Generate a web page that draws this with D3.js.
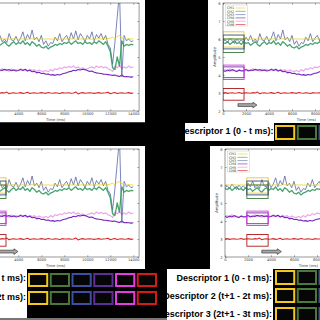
<!DOCTYPE html>
<html><head><meta charset="utf-8">
<script src="https://cdn.jsdelivr.net/npm/d3@7"></script>
<style>html,body{margin:0;padding:0;background:#000;overflow:hidden}svg{display:block}</style>
</head><body>
<svg id="c" width="320" height="320"></svg>
<script>
// ---------- data ----------
const channels = ["CH1","CH2","CH3","CH4","CH5","CH6"];
const sampleTimes = d3.range(0, 14001, 200);
const ch1 = [6.0,6.01,5.99,6.0,6.02,6.0,5.99,6.01,6.0,6.0,6.01,
  6.0,5.99,6.02,6.0,6.01,5.99,6.0,6.02,6.0,5.99,
  6.0,6.01,6.0,5.98,6.0,6.02,6.0,6.01,5.99,6.0,
  6.0,6.0,6.01,5.99,6.0,6.02,6.0,5.98,6.01,6.0,
  6.0,6.02,6.0,6.01,5.99,6.0,6.01,6.0,6.02,6.0,
  6.0,5.99,6.01,6.0,6.02,6.0,6.05,6.0,6.02,6.05,
  6.1,6.0,6.15,6.2,6.05,6.1,6.0,6.02,6.0,6.01];
const ch2 = [5.8,5.75,5.85,5.7,5.8,5.9,5.75,5.8,5.7,5.85,5.75,
  5.8,5.65,5.75,5.85,5.7,5.6,5.75,5.85,5.7,5.8,
  5.75,5.9,5.7,5.8,5.65,5.85,5.75,5.6,5.7,5.55,
  5.5,5.6,5.45,5.55,5.6,5.7,5.65,5.75,5.7,5.8,
  5.75,5.85,5.7,5.8,5.9,5.75,5.8,5.7,5.85,5.75,
  5.8,5.7,5.85,5.75,5.9,5.8,5.7,5.85,5.6,5.3,
  4.4,4.3,5.0,4.5,5.9,5.6,5.7,5.65,5.7,5.68];
const ch3 = [5.85,5.95,5.8,6.05,5.9,5.75,6.0,5.85,5.95,5.8,6.1,
  5.9,6.2,5.85,6.0,5.8,6.3,5.95,5.9,6.15,5.85,
  6.05,6.4,5.9,6.25,6.0,6.5,5.95,6.1,5.85,6.2,
  5.7,5.9,5.6,5.8,5.75,6.1,5.9,6.3,5.85,6.05,
  6.2,5.9,6.35,6.0,6.45,5.95,6.3,6.1,5.85,6.2,
  6.0,6.4,5.9,6.25,6.05,6.3,5.95,6.2,5.7,5.5,
  4.6,5.8,7.2,8.6,3.9,6.2,5.9,6.0,5.85,5.9];
const ch4 = [4.25,4.2,4.28,4.22,4.3,4.24,4.2,4.27,4.22,4.25,4.3,
  4.22,4.28,4.25,4.32,4.26,4.3,4.24,4.28,4.22,4.25,
  4.3,4.25,4.32,4.22,4.26,4.18,4.2,4.12,4.15,4.08,
  4.1,4.04,4.06,4.0,4.02,3.98,4.03,4.0,4.06,4.1,
  4.12,4.18,4.2,4.26,4.24,4.3,4.28,4.32,4.3,4.25,
  4.2,4.22,4.15,4.12,4.1,4.08,4.05,4.04,4.02,4.0,
  3.98,4.0,3.95,3.92,4.0,3.9,3.92,3.9,3.88,3.9];
const ch5 = [4.25,4.3,4.2,4.35,4.22,4.28,4.18,4.3,4.25,4.2,4.32,
  4.28,4.22,4.35,4.25,4.3,4.2,4.33,4.27,4.3,4.25,
  4.35,4.28,4.3,4.22,4.32,4.25,4.3,4.2,4.28,4.22,
  4.2,4.25,4.18,4.3,4.22,4.35,4.3,4.4,4.35,4.45,
  4.4,4.48,4.42,4.5,4.38,4.45,4.35,4.4,4.3,4.35,
  4.4,4.45,4.38,4.5,4.42,4.48,4.4,4.45,4.35,4.3,
  4.2,4.5,4.4,4.55,4.35,4.45,4.38,4.5,4.4,4.45];
const ch6 = [3.0,3.02,2.98,3.0,3.01,2.99,3.0,3.03,2.98,3.0,3.01,
  3.0,2.99,3.02,3.0,3.05,2.96,3.0,3.01,2.99,3.0,
  3.02,2.98,3.0,3.04,2.97,3.0,3.01,2.99,3.0,3.02,
  3.0,2.98,3.03,3.0,2.99,3.01,3.0,2.97,3.02,3.0,
  3.0,3.01,2.99,3.0,3.06,2.95,3.0,3.02,2.99,3.0,
  3.01,3.0,2.98,3.0,3.02,2.99,3.0,3.01,3.04,2.96,
  3.0,3.03,2.97,3.0,3.01,2.99,3.0,3.02,2.98,3.0];
const series = [ch1, ch2, ch3, ch4, ch5, ch6];
const lineColors = ["#e6d21e","#2f9a5c","#5a68a8","#6a1cb8","#e08ae0","#d42020"];
const xTicks = [0,2000,4000,6000,8000,10000,12000,14000];
const yTicks = [2,3,4,5,6,7,8];
const boxRanges = [[5.55,6.4],[5.25,6.0],[5.45,6.22],[3.85,4.45],[3.75,4.55],[2.6,3.25]];
const boxColors = ["#f2c81e","#3f7a3c","#2e4f7a","#7a2aa8","#d63ad6","#b01818"];
const descriptorLabels = ["Descriptor 1 (0 - t ms):","Descriptor 2 (t+1 - 2t ms):","Descriptor 3 (2t+1 - 3t ms):"];
const descriptorColors = ["#f2c81e","#4a7a3a","#3e4ea0","#5e2e98","#e23ee2","#d41a1a"];

// ---------- drawing ----------
const svg = d3.select("#c");
const defs = svg.append("defs");
const drawOrder = [4,3,5,2,1,0];
const strokeW = [0.8,1.3,0.9,1.1,1.2,1.1];
const strokeOp = [0.95,0.9,0.9,0.95,0.75,0.95];

function drawPanel(p) {
  defs.append("clipPath").attr("id","r"+p.name).append("rect")
    .attr("x",p.rx).attr("y",p.ry).attr("width",p.rw).attr("height",p.rh);
  const g = svg.append("g").attr("clip-path",`url(#r${p.name})`);
  g.append("rect").attr("x",p.rx).attr("y",p.ry).attr("width",p.rw).attr("height",p.rh).attr("fill","#fff");
  const x = d3.scaleLinear().domain([0,14500]).range([p.x0, p.x0 + 14500*0.0115]);
  const y = d3.scaleLinear().domain([2,8]).range([p.yB, p.yB-108]);
  const inX = v => x(v) > p.rx + 3 && x(v) < p.rx + p.rw + 6;
  defs.append("clipPath").attr("id","f"+p.name).append("rect")
    .attr("x",x(0)).attr("y",y(8)).attr("width",x(14500)-x(0)).attr("height",y(2)-y(8));
  const plot = g.append("g").attr("clip-path",`url(#f${p.name})`);
  const line = d3.line().x((d,i)=>x(sampleTimes[i])).y(d=>y(d));
  drawOrder.forEach(k => {
    plot.append("path").attr("d",line(series[k])).attr("fill","none")
      .attr("stroke",lineColors[k]).attr("stroke-width",strokeW[k])
      .attr("stroke-linejoin","round").attr("opacity",strokeOp[k]);
  });
  if (p.win) {
    boxRanges.forEach((r,i) => {
      plot.append("rect").attr("x",x(p.win[0])).attr("y",y(r[1]))
        .attr("width",x(p.win[1])-x(p.win[0])).attr("height",y(r[0])-y(r[1]))
        .attr("fill","none").attr("stroke",boxColors[i]).attr("stroke-width",0.9);
    });
  }
  if (p.arrow) {
    const x1 = x(p.arrow[0]), x2 = x(p.arrow[1]), yc = y(p.arrow[2]);
    const path = d3.path();
    path.moveTo(x1,yc-1.4); path.lineTo(x2-4,yc-1.4); path.lineTo(x2-4,yc-2.8);
    path.lineTo(x2,yc); path.lineTo(x2-4,yc+2.8); path.lineTo(x2-4,yc+1.4);
    path.lineTo(x1,yc+1.4); path.closePath();
    plot.append("path").attr("d",path.toString()).attr("fill","#a8a8a8").attr("stroke","#222").attr("stroke-width",0.6);
  }
  g.append("rect").attr("x",x(0)).attr("y",y(8)).attr("width",x(14500)-x(0)).attr("height",y(2)-y(8))
    .attr("fill","none").attr("stroke","#333").attr("stroke-width",0.5);
  const styleAxis = (a, labels) => {
    a.select(".domain").remove();
    a.selectAll("line").attr("stroke","#333").attr("stroke-width",0.4);
    a.attr("font-size",3.6).attr("font-family","DejaVu Sans");
    a.selectAll("text").attr("fill","#333");
    if (!labels) a.selectAll("text").remove();
  };
  const fmt = d3.format("d");
  const visX = xTicks.filter(inX);
  styleAxis(g.append("g").attr("transform",`translate(0,${y(2)})`)
    .call(d3.axisBottom(x).tickValues(visX).tickSize(-1.8).tickPadding(1.5).tickFormat(fmt)), true);
  styleAxis(g.append("g").attr("transform",`translate(0,${y(8)})`)
    .call(d3.axisTop(x).tickValues(visX).tickSize(-1.8)), false);
  const leftVisible = x(0) > p.rx;
  if (leftVisible) {
    styleAxis(g.append("g").attr("transform",`translate(${x(0)},0)`)
      .call(d3.axisLeft(y).tickValues(yTicks).tickSize(-1.8).tickPadding(2.5).tickFormat(fmt)), true);
  }
  if (x(14500) < p.rx + p.rw) {
    styleAxis(g.append("g").attr("transform",`translate(${x(14500)},0)`)
      .call(d3.axisRight(y).tickValues(yTicks).tickSize(-1.8)), false);
  }
  g.append("text").attr("x",(x(0)+x(14500))/2).attr("y",y(2)+9.5).attr("text-anchor","middle")
    .attr("font-family","DejaVu Sans").attr("font-size",3.8).attr("fill","#333").text("Time (ms)");
  if (leftVisible) {
    g.append("text").attr("transform",`translate(${x(0)-7.5},${(y(2)+y(8))/2}) rotate(-90)`)
      .attr("text-anchor","middle").attr("font-family","DejaVu Sans").attr("font-size",3.8).attr("fill","#333").text("Amplitude");
    // legend
    const lx = x(0)+2.5, ly = y(8)+2;
    g.append("rect").attr("x",lx).attr("y",ly).attr("width",22).attr("height",21)
      .attr("fill","#fff").attr("stroke","#bbb").attr("stroke-width",0.4);
    channels.forEach((c,i) => {
      const yy = ly + 3 + i*3.3;
      g.append("text").attr("x",lx+1.5).attr("y",yy+1.3).attr("font-family","DejaVu Sans")
        .attr("font-size",3.4).attr("fill","#333").text(c);
      g.append("line").attr("x1",lx+10).attr("x2",lx+20).attr("y1",yy).attr("y2",yy)
        .attr("stroke",lineColors[i]).attr("stroke-width",0.6);
    });
  }
}

drawPanel({name:"A", rx:0, ry:0, rw:145, rh:122.5, x0:-27.7, yB:111});
drawPanel({name:"B", rx:208, ry:0, rw:112, rh:123, x0:223, yB:111, win:[0,1830], arrow:[1300,2950,2.33]});
drawPanel({name:"C", rx:0, ry:146, rw:145, rh:123, x0:-27.7, yB:257, win:[1000,2930], arrow:[2300,3970,2.3]});
drawPanel({name:"D", rx:210, ry:146, rw:110, rh:123, x0:225, yB:257, win:[1900,3750], arrow:[3200,4900,2.3]});

// ---------- descriptor rows ----------
function drawDescriptors(d) {
  svg.append("rect").attr("x",d.wx).attr("y",d.wy).attr("width",d.ww).attr("height",d.wh).attr("fill","#fff");
  const cols = d3.scaleBand().domain(channels).range([d.cx, d.cx + 129]).paddingInner(0.07);
  d.rows.forEach((ry,ri) => {
    svg.append("text").attr("x",d.tx).attr("y",ry.base).attr("text-anchor","end")
      .attr("font-family","Liberation Sans").attr("font-weight","bold").attr("font-size",9)
      .attr("fill","#000").text(descriptorLabels[ri]);
    channels.forEach((c,ci) => {
      svg.append("rect").attr("x",cols(c)+1).attr("y",ry.top+1)
        .attr("width",cols.bandwidth()-2).attr("height",ry.h-2)
        .attr("fill","#060606").attr("stroke",descriptorColors[ci]).attr("stroke-width",2);
    });
  });
}
// black text outside the white areas is invisible on the black page, as in the cropped original
drawDescriptors({wx:185, wy:123, ww:89, wh:18, tx:273.5, cx:275, rows:[{top:125,h:15,base:134}]});
drawDescriptors({wx:0, wy:269, ww:27, wh:49, tx:26, cx:28, rows:[{top:273,h:14,base:280.5},{top:291,h:14,base:299.5}]});
drawDescriptors({wx:167, wy:269, ww:106, wh:51, tx:272, cx:275, rows:[{top:270,h:15,base:280.5},{top:288,h:15,base:299},{top:307,h:15,base:316.5}]});
svg.append("rect").attr("x",0).attr("y",318).attr("width",167).attr("height",2).attr("fill","#777");
</script>
</body></html>
